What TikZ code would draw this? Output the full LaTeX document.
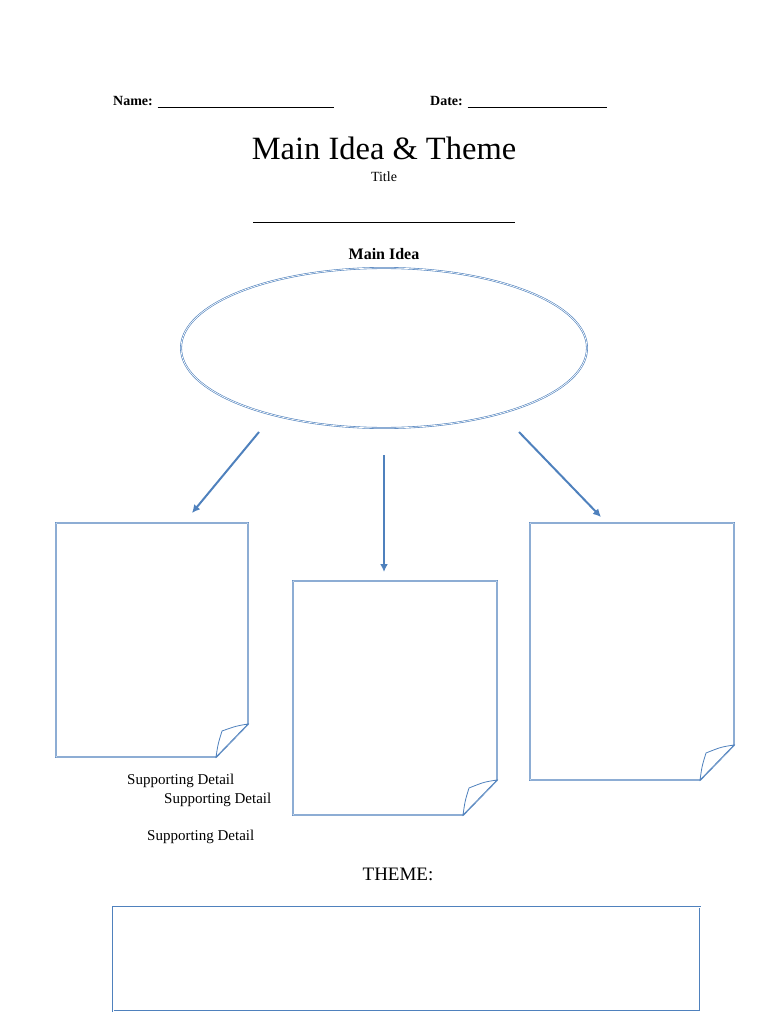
\documentclass[tikz,border=0pt]{standalone}
\usepackage{fontspec}
\setmainfont{Liberation Serif}
\usetikzlibrary{arrows.meta,shapes.geometric}
\definecolor{ob}{RGB}{79,129,189}
\tikzset{
  pg/.style={draw=ob, line width=0.6pt, double=white, double distance=0.7pt},
  flap/.style={draw=ob, line width=0.8pt, fill=white},
  arr/.style={draw=ob, line width=2pt, -{Latex[length=8pt,width=8pt]}},
  txt/.style={inner sep=0pt, anchor=base}
}
\begin{document}
\begin{tikzpicture}[x=1pt,y=-1pt]
\useasboundingbox (0,0) rectangle (768,1024);
\node[txt, font=\bfseries\fontsize{14}{16}\selectfont, anchor=base west] (name) at (113,106) {Name: \underline{\hspace{176pt}}};
\node[txt, font=\bfseries\fontsize{14}{16}\selectfont, anchor=base west] (date) at (430,106) {Date: \underline{\hspace{139pt}}};
\node[txt, font=\fontsize{32.5}{36}\selectfont] (title) at (384,160) {Main Idea \& Theme};
\node[txt, font=\fontsize{14}{16}\selectfont] (sub) at (384,182) {Title};
\node[txt, font=\fontsize{14}{16}\selectfont] (line) at (384,221) {\underline{\hspace{262pt}}};
\node[txt, font=\bfseries\fontsize{16}{18}\selectfont] (mi) at (384,259) {Main Idea};
\node[pg, ellipse, minimum width=406pt, minimum height=160pt, inner sep=0pt] (ell) at (384,348) {};
% pages
\draw[pg] (56,523) -- (248,523) -- (248,724) -- (216,757) -- (56,757) -- cycle;
\draw[flap] (248,724) .. controls (236,726) .. (222,731) .. controls (218,744) .. (216,757) -- cycle;
\draw[pg] (293,581) -- (497,581) -- (497,780) -- (463,815) -- (293,815) -- cycle;
\draw[flap] (497,780) .. controls (484,782) .. (469,788) .. controls (465,801) .. (463,815) -- cycle;
\draw[pg] (530,523) -- (734,523) -- (734,745) -- (700,780) -- (530,780) -- cycle;
\draw[flap] (734,745) .. controls (721,747) .. (706,753) .. controls (702,766) .. (700,780) -- cycle;
\coordinate (a1s) at (259,432); \coordinate (a1e) at (192,513);
\coordinate (a2s) at (384,455); \coordinate (a2e) at (384,572);
\coordinate (a3s) at (519,432); \coordinate (a3e) at (601,517);
\draw[arr] (a1s) -- (a1e);
\draw[arr] (a2s) -- (a2e);
\draw[arr] (a3s) -- (a3e);
\node[txt, font=\fontsize{15}{17}\selectfont, anchor=base west] (s1) at (127,784) {Supporting Detail};
\node[txt, font=\fontsize{15}{17}\selectfont, anchor=base west] (s2) at (164,803) {Supporting Detail};
\node[txt, font=\fontsize{15}{17}\selectfont, anchor=base west] (s3) at (147,840) {Supporting Detail};
\node[txt, font=\fontsize{19}{21}\selectfont] (th) at (398,880) {THEME:};
\draw[pg] (113,907) rectangle (700,1011);
\end{tikzpicture}
\end{document}
